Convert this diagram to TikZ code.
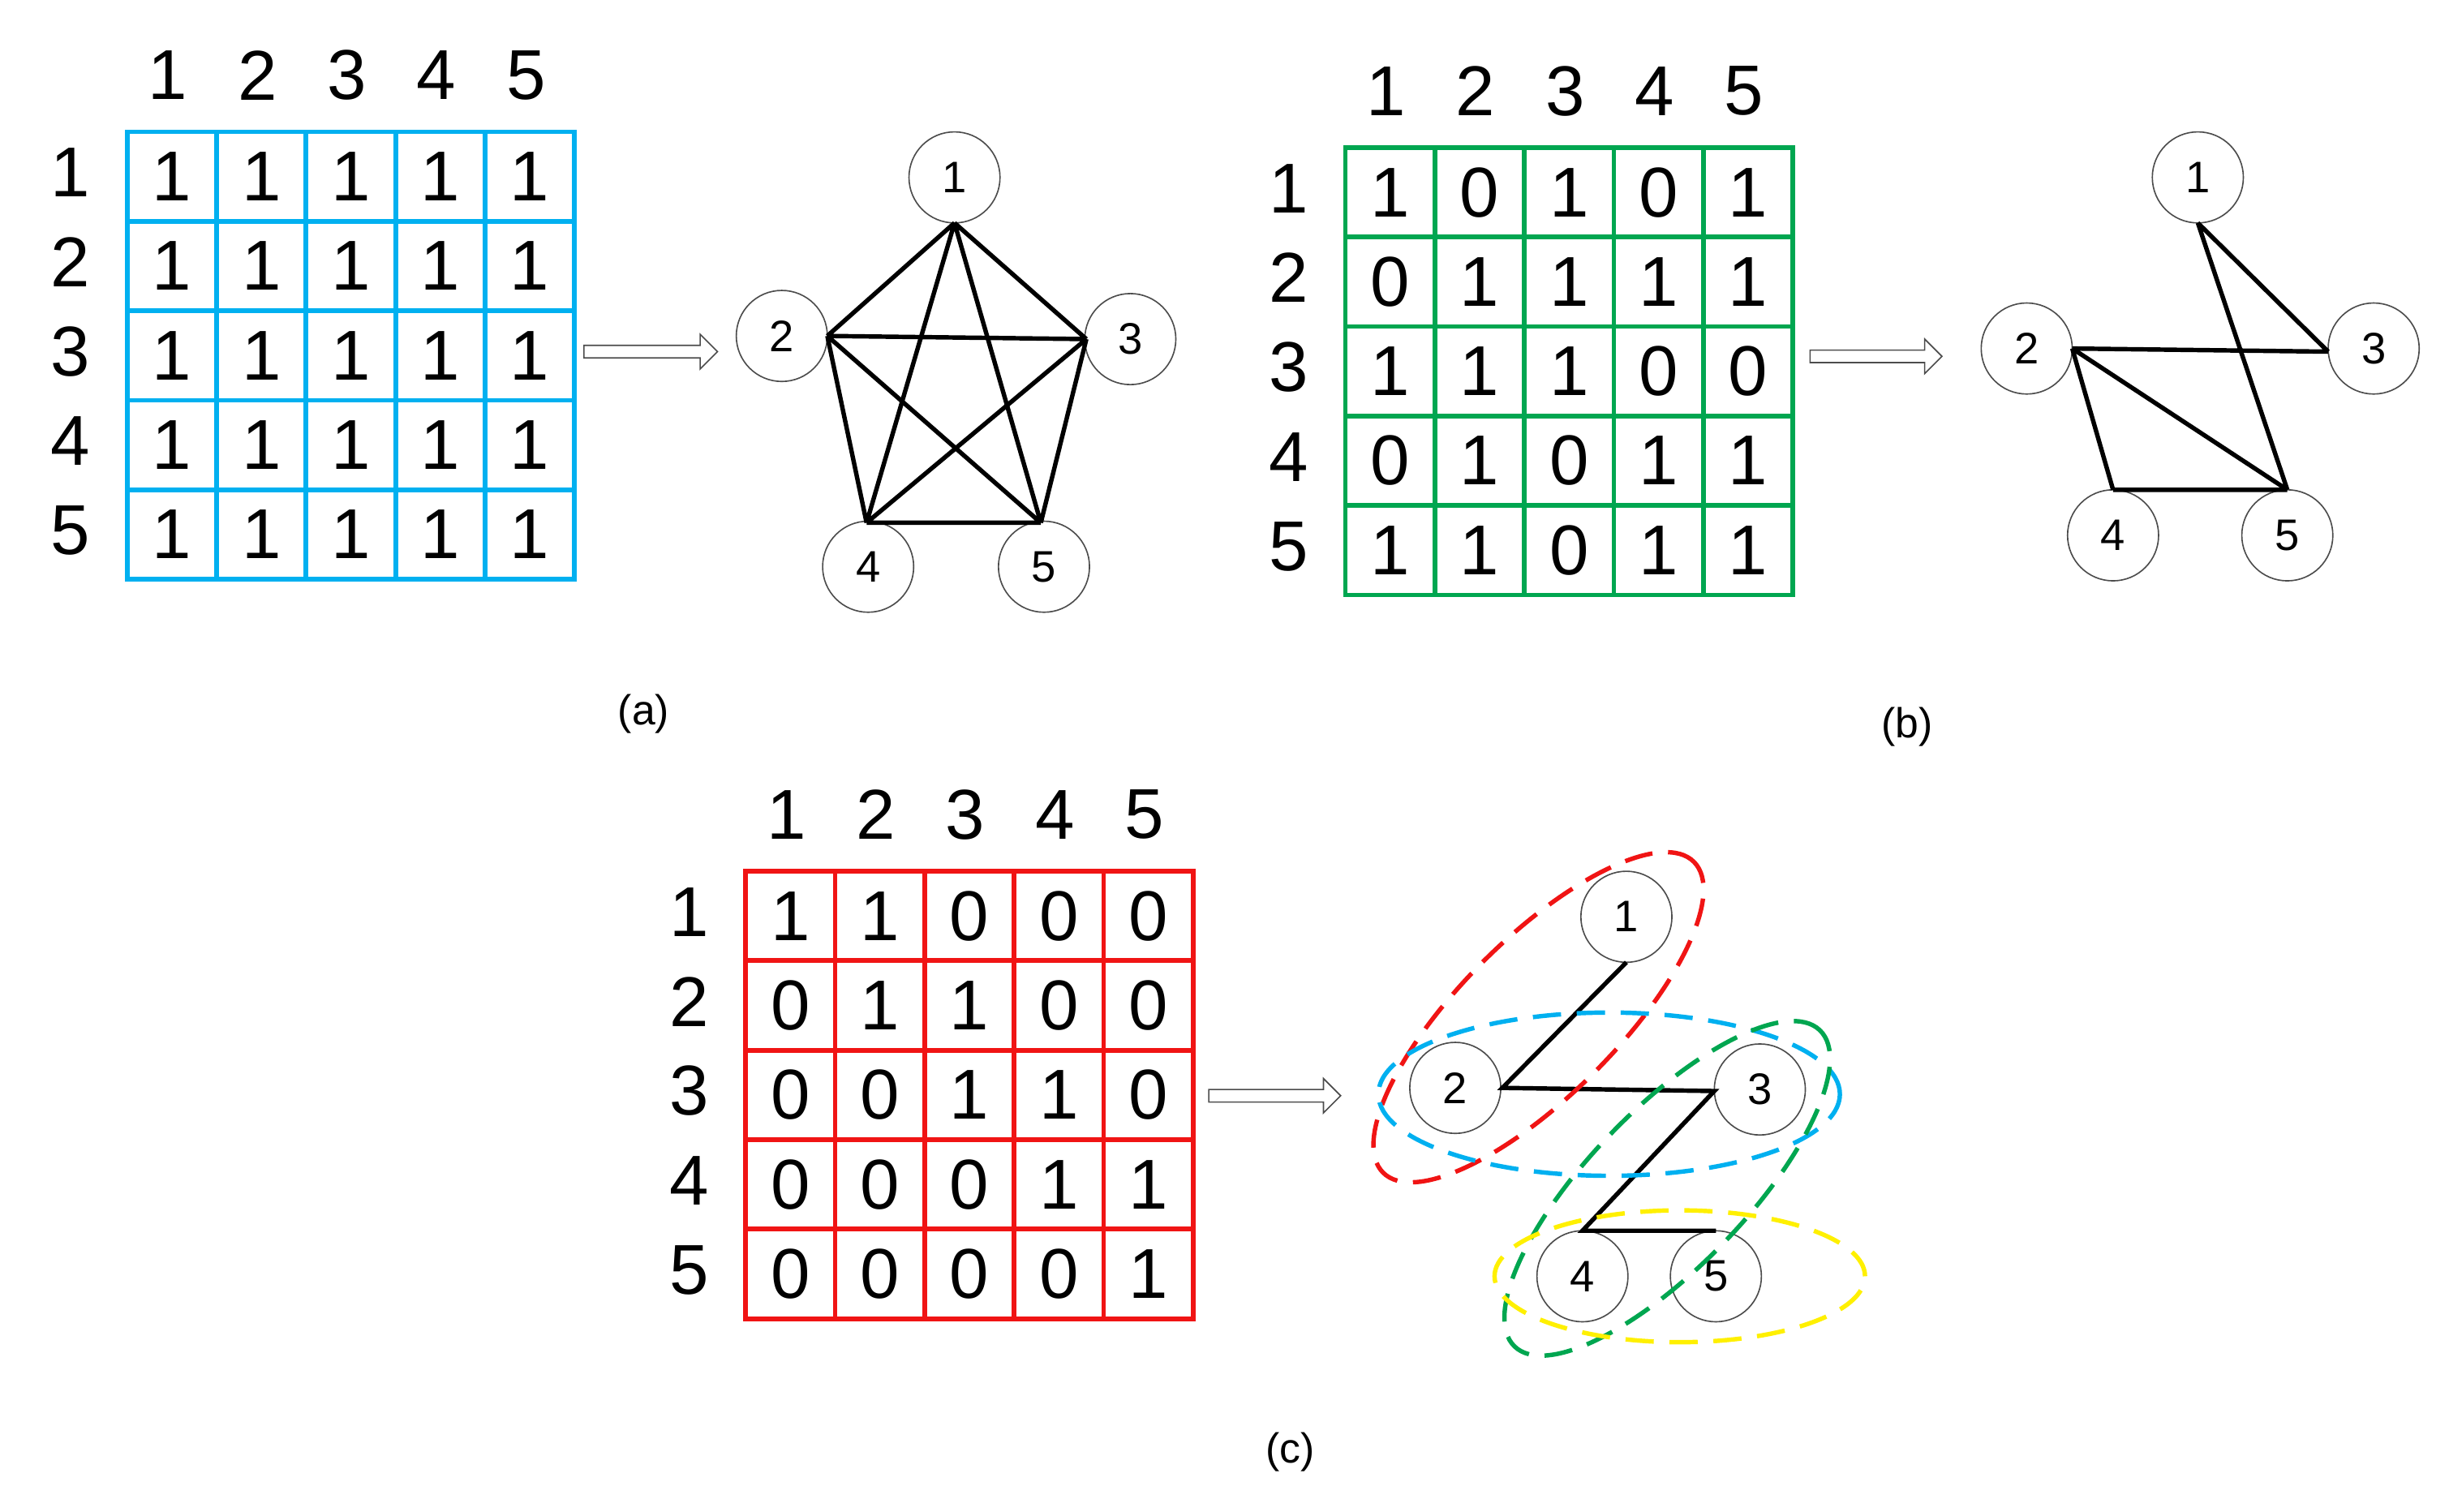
\documentclass[tikz,border=0pt]{standalone}
\usepackage{fontspec}
\setmainfont{Liberation Sans}
\definecolor{cblue}{RGB}{0,176,240}
\definecolor{cgreen}{RGB}{0,166,80}
\definecolor{cred}{RGB}{240,20,20}
\definecolor{cyel}{RGB}{255,240,0}
\begin{document}
\begin{tikzpicture}[x=0.05cm,y=-0.05cm,
  cell/.style={draw=#1,line width=4.3pt,minimum size=2.85cm,inner sep=0,font=\fontsize{64}{64}\selectfont},
  lab/.style={font=\fontsize{64}{64}\selectfont},
  vert/.style={circle,draw=black!70,line width=1.2pt,minimum size=2.9cm,inner sep=0,font=\fontsize{40}{40}\selectfont},
  edge/.style={line width=4pt,black},
  harrow/.style={draw=black!70,line width=1.2pt,fill=white},
  grp/.style={draw=#1,dashed,dash pattern=on 0.9cm off 0.5cm,line width=4pt},
  captxt/.style={font=\fontsize{38}{38}\selectfont}]
\useasboundingbox (0,0) rectangle (1560,963);
\newcommand{\mymat}[5]{%
  \foreach \r/\row in {#5} {
    \foreach \v [count=\c] in \row {
      \node[cell=#4] (#1-\r-\c) at ({#2+28.5+(\c-1)*57},{#3+28.5+(\r-1)*57}) {\v};
    }
    \node[lab] (#1-r\r) at ({#2-36},{#3+26+(\r-1)*57}) {\r};
    \node[lab] (#1-c\r) at ({#2+26+(\r-1)*57},{#3-36}) {\r};
  }}
\newcommand{\myarrow}[3]{%
  \draw[harrow] (#1,#3-4) -- (#2-11,#3-4) -- (#2-11,#3-11) -- (#2,#3) -- (#2-11,#3+11) -- (#2-11,#3+4) -- (#1,#3+4) -- cycle;}
% (a)
\mymat{A}{81}{84}{cblue}{1/{1,1,1,1,1},2/{1,1,1,1,1},3/{1,1,1,1,1},4/{1,1,1,1,1},5/{1,1,1,1,1}}
\node[vert] (a1) at (608,113) {1};
\node[vert] (a2) at (498,214) {2};
\node[vert] (a3) at (720,216) {3};
\node[vert] (a4) at (553,361) {4};
\node[vert] (a5) at (665,361) {5};
\coordinate (p1) at (608,142); \coordinate (p2) at (527,214); \coordinate (p3) at (692,216);
\coordinate (p4) at (552,333); \coordinate (p5) at (663,333);
\draw[edge] (p1)--(p2) (p1)--(p3) (p1)--(p4) (p1)--(p5) (p2)--(p3) (p2)--(p4) (p2)--(p5) (p3)--(p4) (p3)--(p5) (p4)--(p5);
\myarrow{372}{457}{224}
\node[captxt] (ca) at (410,455) {(a)};
% (b)
\mymat{B}{857}{94}{cgreen}{1/{1,0,1,0,1},2/{0,1,1,1,1},3/{1,1,1,0,0},4/{0,1,0,1,1},5/{1,1,0,1,1}}
\node[vert] (b1) at (1400,113) {1};
\node[vert] (b2) at (1291,222) {2};
\node[vert] (b3) at (1512,222) {3};
\node[vert] (b4) at (1346,341) {4};
\node[vert] (b5) at (1457,341) {5};
\coordinate (q1) at (1400,142); \coordinate (q2) at (1320,222); \coordinate (q3) at (1483,224);
\coordinate (q4) at (1346,312); \coordinate (q5) at (1457,312);
\draw[edge] (q1)--(q3) (q1)--(q5) (q2)--(q3) (q2)--(q4) (q2)--(q5) (q4)--(q5);
\myarrow{1153}{1237}{227}
\node[captxt] (cb) at (1215,463) {(b)};
% (c)
\mymat{C}{475}{555}{cred}{1/{1,1,0,0,0},2/{0,1,1,0,0},3/{0,0,1,1,0},4/{0,0,0,1,1},5/{0,0,0,0,1}}
\node[vert] (c1) at (1036,584) {1};
\node[vert] (c2) at (927,693) {2};
\node[vert] (c3) at (1121,694) {3};
\node[vert] (c4) at (1008,813) {4};
\node[vert] (c5) at (1093,813) {5};
\coordinate (r1) at (1036,613); \coordinate (r2) at (957,693); \coordinate (r3) at (1092,695);
\coordinate (r4) at (1008,784); \coordinate (r5) at (1093,784);
\draw[edge] (r1)--(r2)--(r3)--(r4)--(r5);
\draw[grp=cred] (980,648) ellipse[x radius=7.0cm,y radius=2.5cm,rotate=45];
\draw[grp=cblue] (1025,697) ellipse[x radius=7.35cm,y radius=2.6cm];
\draw[grp=cgreen] (1062,757) ellipse[x radius=7.0cm,y radius=2.5cm,rotate=46];
\draw[grp=cyel] (1070,813) ellipse[x radius=5.9cm,y radius=2.1cm];
\myarrow{770}{854}{698}
\node[captxt] (cc) at (822,925) {(c)};
\end{tikzpicture}
\end{document}
